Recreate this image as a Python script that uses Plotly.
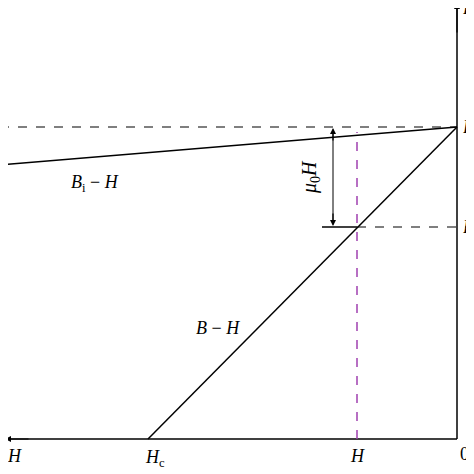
import plotly.graph_objects as go

# key points (diagram units, origin at axis corner)
origin = (457, 35)
Br = 347
Bprime = 247
Hc = 148
H_pt = 357
Bi_left = (0, 309)
arrow_x = 333

fig = go.Figure()
line = dict(color="black", width=1.5)
def seg(x, y, **kw):
    fig.add_trace(go.Scatter(x=x, y=y, mode="lines", line=kw.get("line", line),
                             hoverinfo="skip", showlegend=False))

seg([457, 457], [35, 470])          # B axis
seg([10, 457], [35, 35])            # H axis
seg([Bi_left[0], 457], [Bi_left[1], Br])   # Bi-H
seg([Hc, 457], [35, Br])            # B-H
seg([0, 457], [Br, Br], line=dict(color="black", width=1.2, dash="dash"))
seg([H_pt, 474], [Bprime, Bprime], line=dict(color="black", width=1.2, dash="dash"))
seg([322, H_pt], [Bprime, Bprime])
seg([H_pt, H_pt], [35, Br - 5], line=dict(color="#a040b0", width=1.5, dash="dash"))
seg([arrow_x, arrow_x], [Bprime + 4, Br - 4], line=dict(color="black", width=1))

for ax, ay, x, y in [(arrow_x, Bprime + 15, arrow_x, Bprime + 1), (arrow_x, Br - 15, arrow_x, Br - 1),
                     (30, 35, 5, 35), (457, 440, 457, 471)]:
    fig.add_annotation(x=x, y=y, ax=ax, ay=ay, xref="x", yref="y", axref="x", ayref="y",
                       showarrow=True, arrowhead=2, arrowsize=1, arrowwidth=1.2, arrowcolor="black", text="")

f = dict(family="Liberation Serif", size=18, color="black")
texts = [(14, 18, "<i>H</i>"), (155, 16, "<i>H</i><sub>c</sub>"), (357, 18, "<i>H</i>"),
         (464, 20, "0"), (468, 466, "<i>B</i>"), (468, Br, "<i>B</i>"), (468, Bprime, "<i>B</i>"),
         (95, 291, "<i>B</i><sub>i</sub> − <i>H</i>"), (218, 146, "<i>B</i> − <i>H</i>"), (2, Br + 6, "′")]
for x, y, t in texts:
    fig.add_annotation(x=x, y=y, text=t, showarrow=False, font=f, xref="x", yref="y")
fig.add_annotation(x=310, y=297, text="<i>μ</i><sub>0</sub><i>H</i>", textangle=-90,
                   showarrow=False, font=dict(family="Liberation Serif", size=20, color="black"),
                   xref="x", yref="y")

fig.update_xaxes(range=[8, 482], visible=False)
fig.update_yaxes(range=[-8, 466], visible=False)
fig.update_layout(width=474, height=474, margin=dict(l=0, r=0, t=0, b=0),
                  plot_bgcolor="white", paper_bgcolor="white")
fig.write_html("out.html")
